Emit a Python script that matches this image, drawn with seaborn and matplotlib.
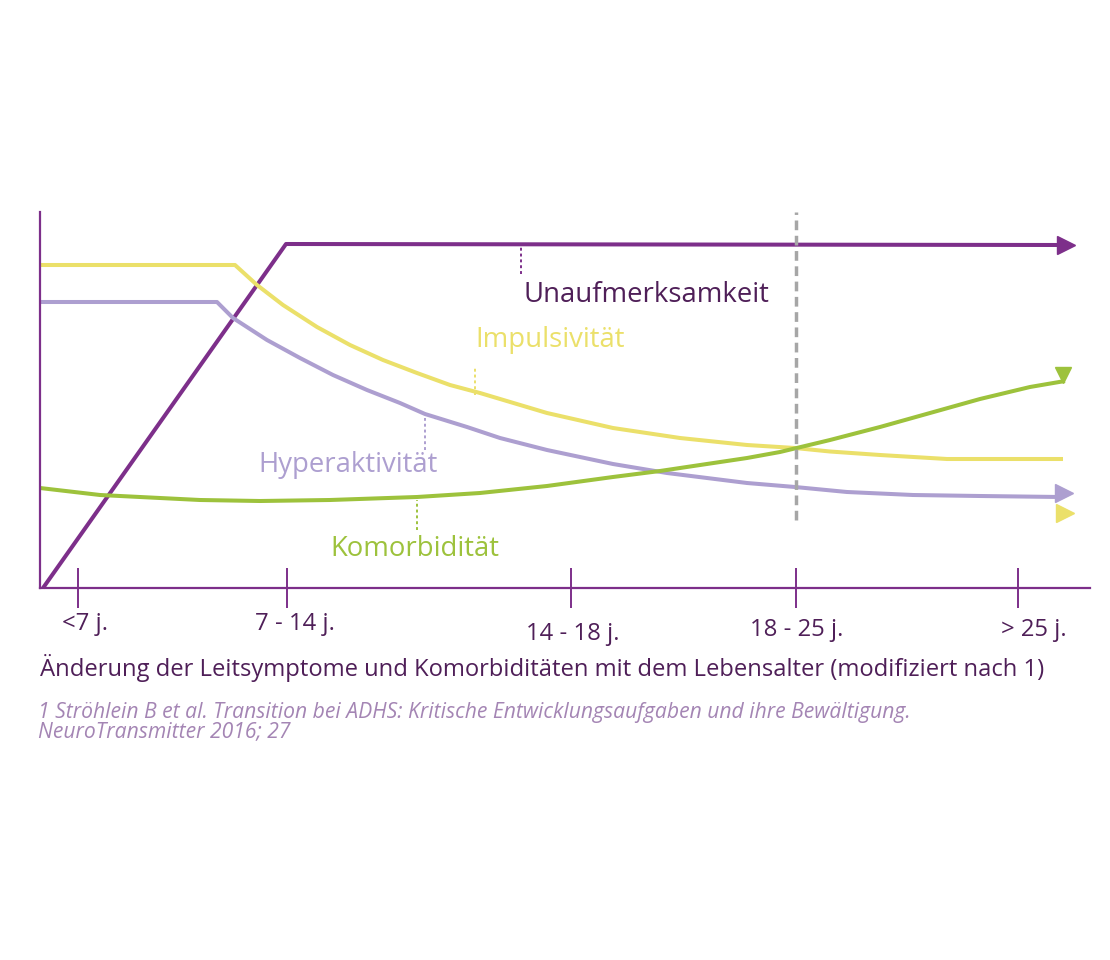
import matplotlib
matplotlib.use("Agg")
import matplotlib.pyplot as plt
import matplotlib.transforms as mtransforms
import seaborn as sns
import pandas as pd

# ---------------- data (chart units: x = position along age axis, y = symptom level) ----------------
tick_pos = [38, 247, 531, 756, 978]
tick_labels = ["<7 j.", "7 - 14 j.", "14 - 18 j.", "18 - 25 j.", "> 25 j."]

unauf_x = [3, 246, 1022]
unauf_y = [0, 344, 343]

impuls_x = [0, 195, 217, 243, 277, 310, 343, 377, 410, 440, 507, 573, 640, 707, 755, 790, 840, 907, 1023]
impuls_y = [323, 323, 303, 283, 261, 243, 228, 215, 203, 195, 175, 160, 150, 143, 140, 136.5, 133, 129, 129]

hyper_x = [0, 177, 193, 227, 260, 293, 327, 360, 385, 427, 460, 507, 573, 627, 707, 755, 807, 873, 940, 1020]
hyper_y = [286, 286, 270, 248, 230, 213, 198, 185, 174, 161, 150, 138, 124, 115, 105, 101, 96, 93, 92, 91]

komorb_x = [0, 60, 160, 220, 290, 377, 440, 507, 573, 620, 707, 740, 790, 840, 890, 940, 990, 1025]
komorb_y = [100, 93, 88, 87, 88, 91, 95, 102, 111, 117, 130, 136, 148, 161, 175, 189, 201, 207]

marker_end_impuls = (1025, 75)   # detached yellow arrow head
divider_x = 756                  # 18 - 25 j. boundary
divider_span = (68, 376)

labels = ["Unaufmerksamkeit", "Impulsivität", "Hyperaktivität", "Komorbidität"]
leader_x = [481, 435, 385, 377]
leader_y = [(314, 342), (193, 222), (138, 170), (58, 88)]

caption = "Änderung der Leitsymptome und Komorbiditäten mit dem Lebensalter (modifiziert nach 1)"
citation = ("1 Ströhlein B et al. Transition bei ADHS: Kritische Entwicklungsaufgaben und ihre Bewältigung.\n"
            "NeuroTransmitter 2016; 27")

# ---------------- style ----------------
PURPLE = "#7d2f8a"
YELLOW = "#ebe06a"
LAVENDER = "#ad9fd0"
GREEN = "#9dc23c"
DARK = "#4f1f58"
GRAY = "#a6a6a6"
CITE = "#a485b4"

sns.set_theme(style="white")
plt.rcParams["font.family"] = ["Open Sans", "DejaVu Sans"]

W, H = 1110, 960
fig = plt.figure(figsize=(W / 100, H / 100), dpi=100)
ax = fig.add_axes([40 / W, (H - 588) / H, 1050 / W, 376 / H])
ax.set_xlim(0, 1050)
ax.set_ylim(0, 376)

lw = 2.9
series = [
    (unauf_x, unauf_y, PURPLE),
    (impuls_x, impuls_y, YELLOW),
    (hyper_x, hyper_y, LAVENDER),
    (komorb_x, komorb_y, GREEN),
]
for xs, ys, col in series:
    df = pd.DataFrame({"x": xs, "y": ys})
    sns.lineplot(data=df, x="x", y="y", sort=False, color=col, lw=lw, ax=ax,
                 solid_capstyle="butt", solid_joinstyle="round", clip_on=False)

# arrow heads
ax.plot([unauf_x[-1] + 4], [unauf_y[-1]], marker=">", ms=13, color=PURPLE, clip_on=False)
ax.plot([hyper_x[-1] + 4], [hyper_y[-1] + 4], marker=">", ms=13, color=LAVENDER, clip_on=False)
ax.plot([komorb_x[-1] - 2], [komorb_y[-1] + 6], marker="v", ms=12, color=GREEN, clip_on=False)
ax.plot([marker_end_impuls[0]], [marker_end_impuls[1]], marker=">", ms=13, color=YELLOW, clip_on=False)

# dashed divider
ax.plot([divider_x, divider_x], list(divider_span), color=GRAY, lw=2.5, ls=(0, (2.8, 1.6)))

# leader lines and labels
label_cols = [DARK, YELLOW, LAVENDER, GREEN]
line_cols = [PURPLE, YELLOW, LAVENDER, GREEN]
label_pos = [(483, 293), (435, 248), (218, 123), (290, 39)]
for lab, lx, (y0, y1), lc, tc, (tx, ty) in zip(labels, leader_x, leader_y, line_cols, label_cols, label_pos):
    ax.plot([lx, lx], [y0, y1], color=lc, lw=1.4, ls=(0, (1.5, 1.5)))
    ax.text(tx, ty, lab, color=tc, fontsize=19.8, va="center", ha="left")

# axes
for side in ["top", "right"]:
    ax.spines[side].set_visible(False)
for side in ["left", "bottom"]:
    ax.spines[side].set_color(PURPLE)
    ax.spines[side].set_linewidth(1.6)
ax.set_yticks([])
ax.set_xticks(tick_pos)
ax.set_xticklabels(tick_labels)
ax.tick_params(axis="x", direction="inout", length=29, width=1.4, color=PURPLE,
               labelsize=17.2, labelcolor=DARK, pad=2.5, bottom=True)
ax.set_xlabel("")
ax.set_ylabel("")

offsets = [(7, 0), (8, 0), (2, -10), (1, -6), (16, -6)]
for lbl, (dx, dy) in zip(ax.get_xticklabels(), offsets):
    lbl.set_transform(lbl.get_transform() + mtransforms.ScaledTranslation(dx / 100, dy / 100, fig.dpi_scale_trans))

fig.text(40 / W, 1 - 668 / H, caption, color=DARK, fontsize=17.1, va="center", ha="left")
fig.text(38 / W, 1 - 722 / H, citation, color=CITE, fontsize=15.2, style="italic",
         va="center", ha="left", linespacing=0.88)

fig.savefig("out.png", dpi=100, facecolor="white")
